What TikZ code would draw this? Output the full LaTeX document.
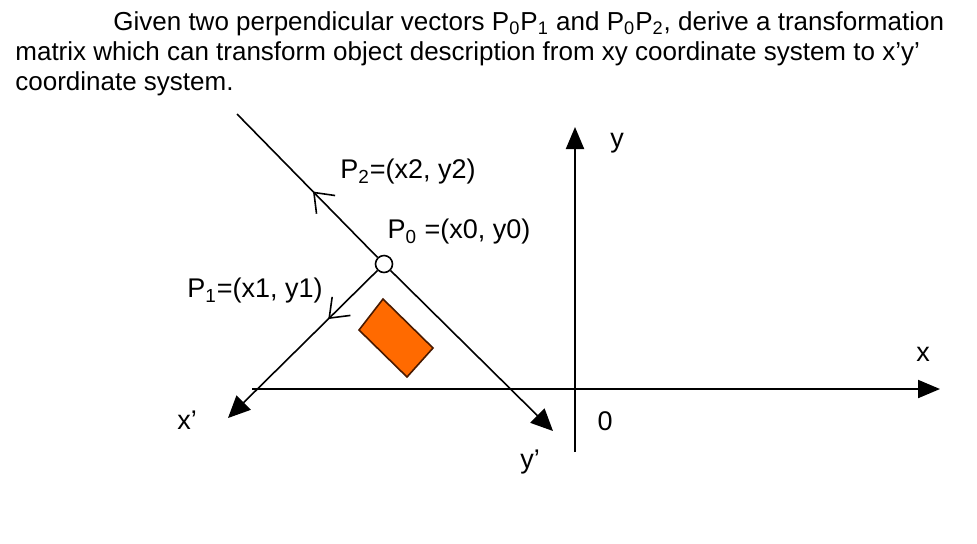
\documentclass[tikz,border=0pt]{standalone}
\usepackage{fontspec}
\setmainfont{Liberation Sans}
\usetikzlibrary{arrows.meta,decorations.markings}
\definecolor{objfill}{HTML}{FF6A00}
\definecolor{objline}{HTML}{4A1A00}
\tikzset{
  lbl/.style={font=\fontsize{13.5}{16}\selectfont, inner sep=0pt},
  ttl/.style={font=\fontsize{13}{15}\selectfont, inner sep=0pt, anchor=base west},
  axis/.style={line width=1pt, -{Triangle[length=11pt,width=9pt]}},
  ray/.style={line width=0.8pt},
  midarrow/.style={postaction={decorate},
    decoration={markings, mark=at position #1 with {\arrow{Straight Barb[length=8.5pt,width=13pt]}}}},
}
\begin{document}
\begin{tikzpicture}[x=0.5pt,y=-0.5pt]
    \useasboundingbox (0,0) rectangle (977,543);

    % question text
    \node[ttl] (t1) at (113,30) {Given two perpendicular vectors P\textsubscript{0}P\textsubscript{1} and P\textsubscript{0}P\textsubscript{2}, derive a transformation};
    \node[ttl] (t2) at (15,60) {matrix which can transform object description from xy coordinate system to x’y’};
    \node[ttl] (t3) at (15,90) {coordinate system.};

    % xy axes
    \coordinate (xl) at (252,389);
    \coordinate (xr) at (940,389);
    \coordinate (yb) at (575,452);
    \coordinate (yt) at (575,127);
    \draw[axis] (xl) -- (xr);
    \draw[axis] (yb) -- (yt);

    % x'y' frame at P0
    \node[circle,draw,fill=white,minimum size=8.5pt,inner sep=0pt,line width=0.8pt] (p0) at (384,264) {};
    \coordinate (p2end) at (237,114);
    \coordinate (xp) at (228,418);
    \coordinate (yp) at (553,431);
    \draw[ray,midarrow=0.46] (p0) -- (p2end);
    \draw[ray,midarrow=0.33,-{Triangle[length=11pt,width=10pt]}] (p0) -- (xp);
    \draw[ray,-{Triangle[length=11pt,width=10pt]}] (p0) -- (yp);

    % object
    \filldraw[fill=objfill,draw=objline,line width=0.8pt] (383,299) -- (433,348) -- (407,377) -- (359,330) -- cycle;

    \node[lbl] (lp2) at (408,172) {P\textsubscript{2}=(x2, y2)};
    \node[lbl] (lp0) at (459,232) {P\textsubscript{0} =(x0, y0)};
    \node[lbl] (lp1) at (255,291) {P\textsubscript{1}=(x1, y1)};
    \node[lbl] (lxp) at (187,420) {x’};
    \node[lbl] (lyp) at (530,462) {y’};
    \node[lbl] (lx) at (923,354) {x};
    \node[lbl] (ly) at (617,143) {y};
    \node[lbl] (lo) at (605,421) {0};
\end{tikzpicture}
\end{document}
